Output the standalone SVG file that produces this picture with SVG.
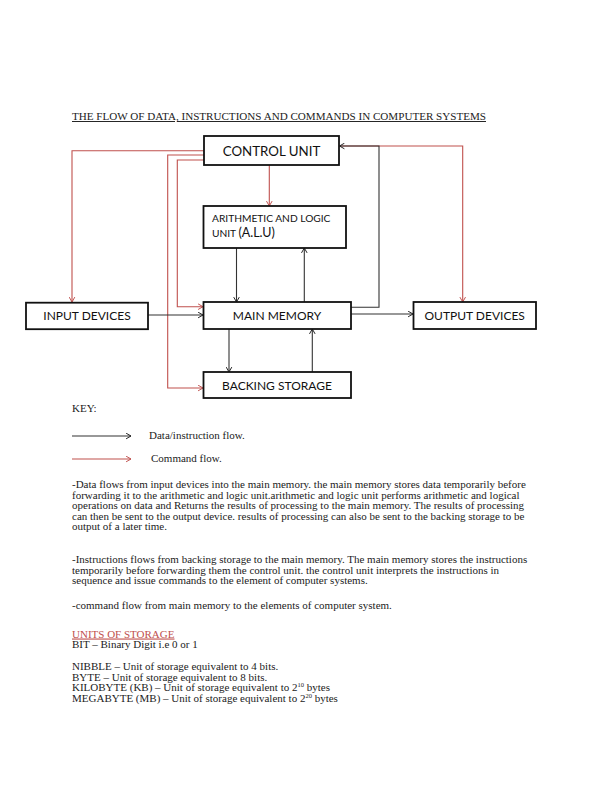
<svg xmlns="http://www.w3.org/2000/svg" width="612" height="792" viewBox="0 0 612 792">
<style>
.box{fill:#fff;stroke:#111;stroke-width:1.8}
.lbl{font-family:Lato,"Open Sans",sans-serif;font-size:12px;fill:#111;text-anchor:middle}
.sm{font-family:Lato,"Open Sans",sans-serif;font-size:10.2px;fill:#111}
.t{font-family:"Liberation Serif","Times New Roman",serif;font-size:11px;fill:#222}
.blk{fill:none;stroke:#333;stroke-width:1.1}
.red{fill:none;stroke:#c0504d;stroke-width:1.1}
</style>
<defs>
<marker id="ab" viewBox="0 0 10 10" refX="10" refY="5" markerWidth="7" markerHeight="7" orient="auto" markerUnits="userSpaceOnUse"><path d="M3,1 L10,5 L3,9" fill="none" stroke="#222" stroke-width="1.4"/></marker>
<marker id="ar" viewBox="0 0 10 10" refX="10" refY="5" markerWidth="7" markerHeight="7" orient="auto" markerUnits="userSpaceOnUse"><path d="M3,1 L10,5 L3,9" fill="none" stroke="#c0504d" stroke-width="1.4"/></marker>
</defs>
<rect width="612" height="792" fill="#fff"/>
<text class="t" x="72" y="120" style="font-size:9.8px" text-decoration="underline" textLength="414" lengthAdjust="spacingAndGlyphs">THE FLOW OF DATA, INSTRUCTIONS AND COMMANDS IN COMPUTER SYSTEMS</text>

<g id="connectors">
<path class="red" d="M204,150.7 H72 V302" marker-end="url(#ar)"/>
<path class="red" d="M204,155 H167.7 V388 H203" marker-end="url(#ar)"/>
<path class="red" d="M204,160 H177.3 V306.7 H203" marker-end="url(#ar)"/>
<path class="red" d="M269.3,165 V206" marker-end="url(#ar)"/>
<path class="red" d="M339,146 H462.7 V302" marker-end="url(#ar)"/>
<path class="blk" d="M148,315 H203" marker-end="url(#ab)"/>
<path class="blk" d="M351,314 H413" marker-end="url(#ab)"/>
<path class="blk" d="M236.5,248 V302" marker-end="url(#ab)"/>
<path class="blk" d="M304.3,302 V248" marker-end="url(#ab)"/>
<path class="blk" d="M229,329 V372" marker-end="url(#ab)"/>
<path class="blk" d="M312.3,372 V329" marker-end="url(#ab)"/>
<path class="blk" d="M351,307.3 H379 V146 H339.5" marker-end="url(#ab)"/>
</g>

<g id="control-unit">
<rect class="box" x="204" y="136" width="135" height="29"/>
<text class="lbl" x="271.5" y="155.5" style="font-size:13.3px">CONTROL UNIT</text>
</g>
<g id="alu">
<rect class="box" x="203.5" y="206" width="142.5" height="42"/>
<text class="sm" x="212" y="222">ARITHMETIC AND LOGIC</text>
<text class="sm" x="212" y="237">UNIT <tspan style="font-size:12.5px">(A.L.U)</tspan></text>
</g>
<g id="input-devices">
<rect class="box" x="26" y="302.7" width="122" height="26.5"/>
<text class="lbl" x="87" y="320.3">INPUT DEVICES</text>
</g>
<g id="main-memory">
<rect class="box" x="203.5" y="302" width="147.5" height="27"/>
<text class="lbl" x="277" y="320">MAIN MEMORY</text>
</g>
<g id="output-devices">
<rect class="box" x="413.5" y="302" width="122.5" height="27"/>
<text class="lbl" x="474.7" y="320">OUTPUT DEVICES</text>
</g>
<g id="backing-storage">
<rect class="box" x="203.5" y="372" width="147.5" height="26"/>
<text class="lbl" x="277" y="389.5">BACKING STORAGE</text>
</g>

<g id="key">
<text class="t" x="72" y="412">KEY:</text>
<path class="blk" d="M72,436 H131" marker-end="url(#ab)"/>
<text class="t" x="149" y="438.5">Data/instruction flow.</text>
<path class="red" d="M72,459 H131" marker-end="url(#ar)"/>
<text class="t" x="151" y="462">Command flow.</text>
</g>

<g id="body">
<text class="t" x="72" y="488">-Data flows from input devices into the main memory. the main memory stores data temporarily before</text>
<text class="t" x="72" y="498.6">forwarding it to the arithmetic and logic unit.arithmetic and logic unit performs arithmetic and logical</text>
<text class="t" x="72" y="509.2">operations on data and Returns the results of processing to the main memory. The results of processing</text>
<text class="t" x="72" y="519.8">can then be sent to the output device. results of processing can also be sent to the backing storage to be</text>
<text class="t" x="72" y="530.4">output of a later time.</text>
<text class="t" x="72" y="563">-Instructions flows from backing storage to the main memory. The main memory stores the instructions</text>
<text class="t" x="72" y="573.6">temporarily before forwarding them the control unit. the control unit interprets the instructions in</text>
<text class="t" x="72" y="584.2">sequence and issue commands to the element of computer systems.</text>
<text class="t" x="72" y="609">-command flow from main memory to the elements of computer system.</text>
<text class="t" x="72" y="637.5" style="fill:#c0504d" text-decoration="underline">UNITS OF STORAGE</text>
<text class="t" x="72" y="648.2">BIT – Binary Digit i.e 0 or 1</text>
<text class="t" x="72" y="670">NIBBLE – Unit of storage equivalent to 4 bits.</text>
<text class="t" x="72" y="680.6">BYTE – Unit of storage equivalent to 8 bits.</text>
<text class="t" x="72" y="691.2">KILOBYTE (KB) – Unit of storage equivalent to 2<tspan dy="-4" style="font-size:6.5px">10</tspan><tspan dy="4"> bytes</tspan></text>
<text class="t" x="72" y="701.8">MEGABYTE (MB) – Unit of storage equivalent to 2<tspan dy="-4" style="font-size:6.5px">20</tspan><tspan dy="4"> bytes</tspan></text>
</g>
</svg>
